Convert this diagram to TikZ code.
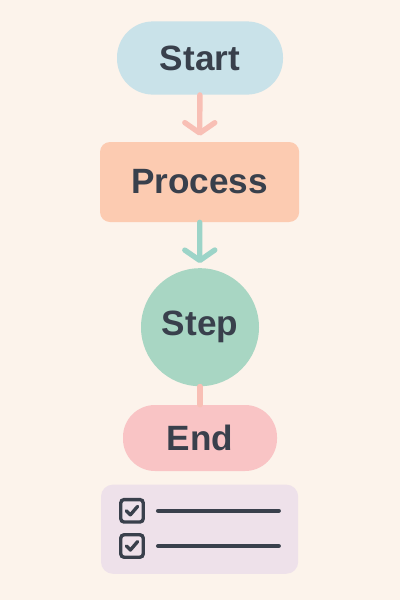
\documentclass[tikz,border=0pt]{standalone}
\usepackage{fontspec}
\setmainfont{Liberation Sans}
\usepackage{tikz}
\usetikzlibrary{arrows.meta}

\definecolor{paper}{RGB}{252,243,235}
\definecolor{ink}{RGB}{57,64,76}
\definecolor{startblue}{RGB}{201,226,233}
\definecolor{procpeach}{RGB}{252,203,177}
\definecolor{stepmint}{RGB}{168,214,195}
\definecolor{endpink}{RGB}{249,196,197}
\definecolor{listlilac}{RGB}{238,225,234}
\definecolor{arrowpink}{RGB}{248,191,181}
\definecolor{arrowteal}{RGB}{156,212,200}

\begin{document}
\begin{tikzpicture}[>={Straight Barb[length=2.6mm,width=7.5mm,line cap=round,line join=round]},
    label/.style={font=\bfseries\fontsize{25}{29}\selectfont, text=ink},
    pill/.style={label, rounded corners=9mm, inner sep=0pt},
    flowline/.style={line width=3.8pt, line cap=round}]
        \fill [paper] (0,0) rectangle (10,-15);
        \useasboundingbox (0,0) rectangle (10,-15);

        \node [pill, fill=startblue, minimum width=4.15cm, minimum height=1.83cm] (start) at (5,-1.45) {Start};
        \node [label, fill=procpeach, rounded corners=2.5mm, minimum width=4.98cm, minimum height=2cm] (process) at (4.99,-4.55) {Process};
        \node [label, circle, fill=stepmint, minimum size=2.95cm, inner sep=0pt] (stepnode) at (5,-8.18) {Step};
        \node [pill, fill=endpink, rounded corners=8mm, minimum width=3.85cm, minimum height=1.65cm] (endnode) at (5,-10.95) {End};
        \node [fill=listlilac, rounded corners=3mm, minimum width=4.93cm, minimum height=2.23cm] (list) at (4.99,-13.23) {};

        \draw [flowline, arrowpink, ->, shorten >=1.5mm] (start) -- (process);
        \draw [flowline, arrowteal, ->, shorten >=1.2mm] (process) -- (stepnode);
        \draw [flowline, arrowpink] (stepnode) -- (endnode);

        % check list
        \foreach \y [count=\i] in {-12.77,-13.65}{
            \node [draw=ink, line width=2.4pt, rounded corners=0.8mm, minimum size=0.56cm, inner sep=0pt] (box\i) at (3.3,\y) {};
            \draw [ink, line width=2.4pt, line cap=round, line join=round]
                ([shift={(-0.14,0)}]box\i.center) -- ([shift={(-0.04,-0.1)}]box\i.center) -- ([shift={(0.14,0.11)}]box\i.center);
            \coordinate (row\i) at (6.97,\y);
            \draw [ink, line width=3pt, line cap=round] ([xshift=3.3mm]box\i.east) -- (row\i);
        }
    \end{tikzpicture}
\end{document}
